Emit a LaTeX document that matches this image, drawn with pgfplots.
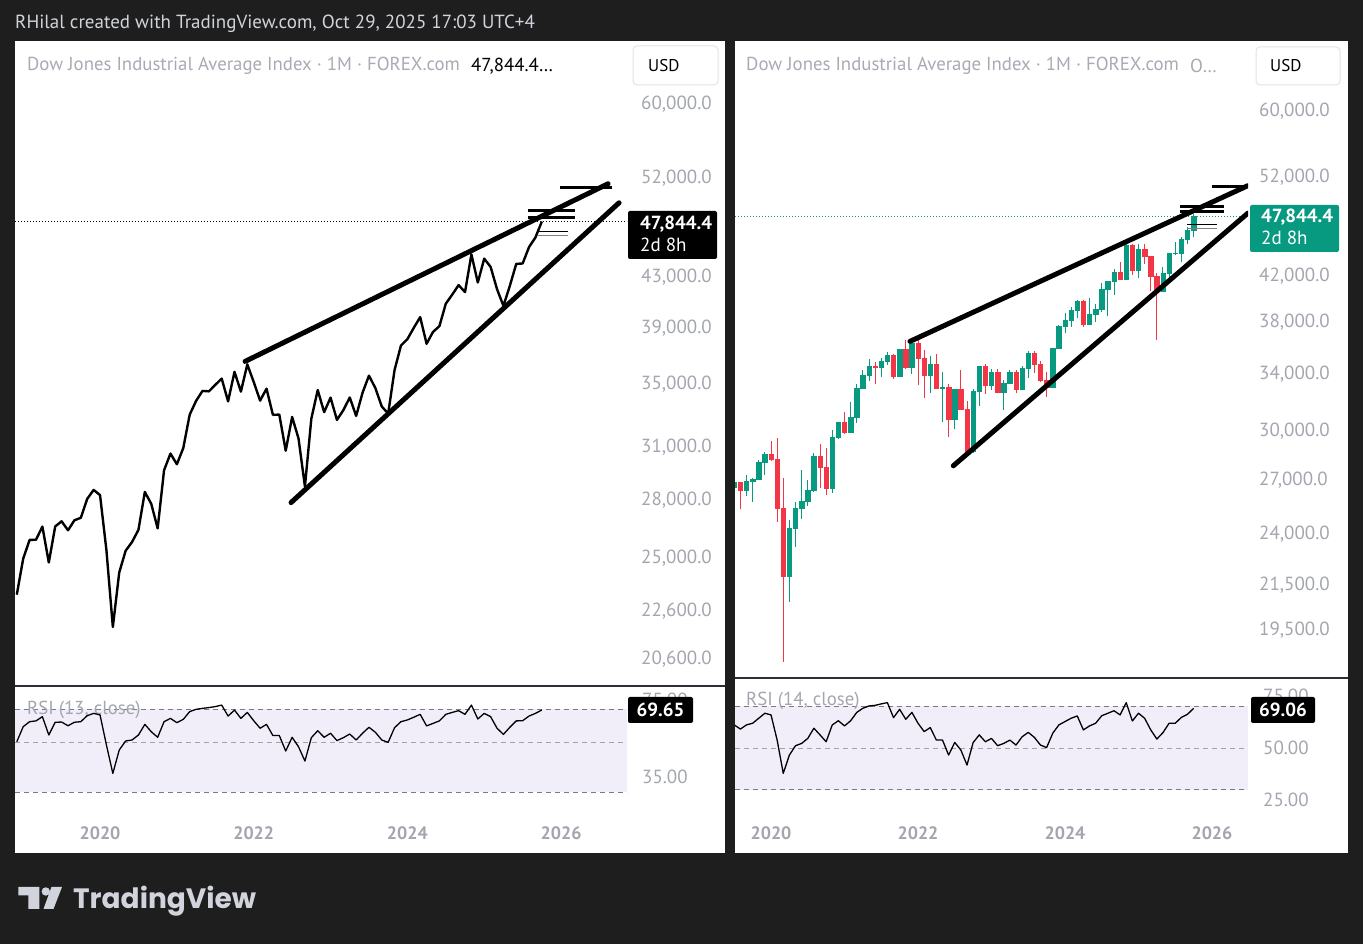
\documentclass[border=0pt]{standalone}
\usepackage{fontspec}
\setmainfont{PT Sans}
\newfontfamily\popfont{Poppins}
\usepackage{pgfplots}
\usepackage{pgfplotstable}
\pgfplotsset{compat=1.18}
\definecolor{bg}{HTML}{1E1E1E}
\definecolor{hdr}{HTML}{D1D4DC}
\definecolor{lbl}{HTML}{A3A6AF}
\definecolor{ttl}{HTML}{A8ABB4}
\definecolor{tvgreen}{HTML}{089981}
\definecolor{tvred}{HTML}{F23645}
\definecolor{band}{HTML}{F1EEF9}
\definecolor{dashc}{HTML}{787B86}
\definecolor{sep}{HTML}{2A2E39}
\definecolor{usdb}{HTML}{E0E3EB}
\newcommand\lblfont{\fontsize{19}{21}\selectfont}
\newcommand\ttlfont{\fontsize{18.8}{21}\selectfont}
\newcommand\hdrfont{\fontsize{19}{21}\selectfont}
\newcommand\usdfont{\fontsize{17}{20}\selectfont}
\newcommand\timefont{\fontsize{18}{20}\selectfont\bfseries}

\pgfplotstableread{
m c
-13 23327
-12 24999
-11 25916
-10 25929
-9 26593
-8 24815
-7 26600
-6 26864
-5 26403
-4 26917
-3 27046
-2 28051
-1 28538
0 28256
1 25409
2 21917
3 24346
4 25383
5 25813
6 26428
7 28430
8 27782
9 26502
10 29639
11 30606
12 29983
13 30932
14 32982
15 33875
16 34529
17 34503
18 34935
19 35361
20 33844
21 35820
22 34484
23 36338
24 35132
25 33893
26 34678
27 32977
28 32990
29 30775
30 32845
31 31510
32 28726
33 32733
34 34590
35 33147
36 34086
37 32657
38 33274
39 34098
40 32908
41 34408
42 35560
43 34722
44 33508
45 33053
46 35951
47 37690
48 38150
49 38996
50 39807
51 37816
52 38686
53 39119
54 40843
55 41563
56 42330
57 41763
58 44911
59 42544
60 44545
61 43841
62 42002
63 40669
64 42270
65 44095
66 44131
67 45545
68 46398
69 47844
}\leftclose

\pgfplotstableread{
m O H L C
-6 26600 27398 26550 26864
-5 26864 26900 25340 26403
-4 26403 27306 26100 26917
-3 26917 27120 25743 27046
-2 27046 28175 27000 28051
-1 28051 28700 27325 28538
0 28538 29374 28170 28256
1 28256 29568 24681 25409
2 25409 27102 18213 21917
3 21917 24765 20735 24346
4 24346 25758 23361 25383
5 25383 27580 24843 25813
6 25813 27000 25524 26428
7 26428 28650 26300 28430
8 28430 29199 26537 27782
9 27782 28958 26143 26502
10 26502 30116 26277 29639
11 29639 30637 29530 30606
12 30606 31272 29857 29983
13 29983 32009 29962 30932
14 30932 33259 30547 32982
15 32982 34257 32900 33875
16 33875 35092 33473 34529
17 34529 34849 33271 34503
18 34503 35171 33742 34935
19 34935 35631 34680 35361
20 35361 35510 33613 33844
21 33844 35892 33785 35820
22 35820 36566 34318 34484
23 34484 36680 34006 36338
24 36338 36953 33150 35132
25 35132 35824 32272 33893
26 33893 35372 32632 34678
27 34678 35492 32913 32977
28 32977 34118 30635 32990
29 32990 33272 29653 30775
30 30775 32910 30144 32845
31 32845 34281 31510 31510
32 31510 32050 28715 28726
33 28726 32889 28660 32733
34 32733 34589 31727 34590
35 34590 34712 32573 33147
36 33147 34342 32812 34086
37 34086 34334 32577 32657
38 32657 33572 31429 33274
39 33274 34257 33235 34098
40 34098 34257 32586 32908
41 32908 34588 32828 34408
42 34408 35679 33705 35560
43 35560 35679 34029 34722
44 34722 34979 33390 33508
45 33508 34142 32327 33053
46 33053 35989 33040 35951
47 35951 37778 35952 37690
48 37690 38783 37123 38150
49 38150 39282 37612 38996
50 38996 39889 38403 39807
51 39807 39900 37612 37816
52 37816 40077 37773 38686
53 38686 39580 38000 39119
54 39119 41376 38904 40843
55 40843 41585 38499 41563
56 41563 42628 40305 42330
57 42330 43325 41679 41763
58 41763 45071 41684 44911
59 44911 45074 42140 42544
60 42544 45054 41844 44545
61 44545 45073 43159 43841
62 43841 43923 40661 42002
63 42002 42300 36612 40669
64 40669 42843 40637 42270
65 42270 44134 41749 44095
66 44095 45207 43948 44131
67 44131 45758 43340 45545
68 45545 46715 45000 46398
69 46398 48040 45700 47844
}\ohlc

\pgfplotstableread{
m r
-13 53.2
-12 61.0
-11 63.6
-10 64.0
-9 66.2
-8 56.7
-7 63.3
-6 63.4
-5 61.5
-4 63.3
-3 63.6
-2 66.7
-1 67.9
0 67.1
1 51.5
2 36.8
3 48.9
4 53.6
5 54.1
6 56.7
7 62.2
8 58.4
9 55.5
10 63.6
11 65.3
12 63.1
13 64.8
14 68.8
15 70.0
16 70.5
17 70.9
18 71.4
19 72.2
20 66.5
21 69.6
22 65.3
23 68.4
24 64.1
25 60.2
26 62.2
27 56.4
28 56.4
29 48.4
30 55.5
31 50.6
32 43.2
33 55.3
34 58.9
35 55.5
36 57.6
37 53.8
38 55.3
39 57.2
40 54.1
41 57.6
42 60.7
43 58.1
44 54.1
45 52.9
46 60.5
47 63.6
48 64.5
49 65.9
50 67.4
51 61.4
52 62.7
53 64.0
54 67.4
55 68.4
56 69.3
57 67.4
58 72.2
59 65.0
60 67.9
61 66.2
62 60.2
63 57.0
64 60.7
65 64.0
66 64.1
67 66.5
68 67.9
69 69.65
}\leftrsi

\pgfplotstableread{
m r
-6 61.1
-5 59.1
-4 61.1
-3 61.9
-2 64.3
-1 66.7
0 65.9
1 53.8
2 37.8
3 46.6
4 51.1
5 52.2
6 54.6
7 59.5
8 56.3
9 53.0
10 61.1
11 63.1
12 60.6
13 63.1
14 67.1
15 69.1
16 70.2
17 70.5
18 71.2
19 71.8
20 64.6
21 68.6
22 63.8
23 67.1
24 61.9
25 57.9
26 59.8
27 53.8
28 53.8
29 46.6
30 52.7
31 49.0
32 41.8
33 52.6
34 56.3
35 53.0
36 54.6
37 51.1
38 52.2
39 53.8
40 51.4
41 55.4
42 57.5
43 55.1
44 51.4
45 50.2
46 57.1
47 61.1
48 62.7
49 64.3
50 65.4
51 58.7
52 60.6
53 61.9
54 65.5
55 66.7
56 67.9
57 65.9
58 71.8
59 63.0
60 66.7
61 64.3
62 58.7
63 54.3
64 57.4
65 61.9
66 61.9
67 64.7
68 66.2
69 69.06
}\rightrsi

\pgfplotsset{
  tvbase/.style={scale only axis, anchor=south west,
    axis line style={draw=none}, major tick length=0pt, minor tick length=0pt,
    tick style={draw=none}, ticklabel style={font=\lblfont, text=lbl},
    clip mode=individual},
  tvdash/.style={draw=dashc, dash pattern=on 5pt off 4pt, line width=0.8pt},
  tvdot/.style={dash pattern=on 1pt off 2pt, line width=1pt},
}

\begin{document}
\begin{tikzpicture}[x=1pt,y=1pt]
\fill[bg] (0,0) rectangle (1363,944);
\fill[white] (15,91) rectangle (725,903);
\fill[white] (735,91) rectangle (1348,903);
\node[anchor=west, text=hdr, font=\hdrfont, inner sep=0pt] at (15,920) {RHilal created with TradingView.com, Oct 29, 2025 17:03 UTC+4};

% ---------- left price pane
\begin{axis}[tvbase, at={(15pt,258pt)}, width=612pt, height=645pt,
  xmin=-13.28, xmax=82.3, ymode=log, ymin=19570, ymax=67740,
  xtick=\empty,
  ytick={20600,22600,25000,28000,31000,35000,39000,43000,52000,60000},
  yticklabels={{20,600.0},{22,600.0},{25,000.0},{28,000.0},{31,000.0},{35,000.0},{39,000.0},{43,000.0},{52,000.0},{60,000.0}},
  yticklabel pos=right, yticklabel style={anchor=west, inner sep=0pt, xshift=14pt}]
\addplot[black, tvdot] coordinates {(-13.28,47844) (82.3,47844)};
\addplot[black, line width=2.4pt, line join=round] table[x=m,y=c] {\leftclose};
\addplot[black, line width=5pt, line cap=round] coordinates {(22.65,36550) (79.34,51450)};
\addplot[black, line width=5pt, line cap=round] coordinates {(29.83,27850) (81.06,49600)};
\addplot[black, line width=3pt] coordinates {(71.84,51060) (79.97,51060)};
\addplot[black, line width=3pt] coordinates {(66.84,48870) (74.18,48870)};
\addplot[black, line width=3pt] coordinates {(66.84,48250) (74.18,48250)};
\addplot[black, line width=1pt] coordinates {(68.41,46900) (73.09,46900)};
\addplot[gray, line width=1pt] coordinates {(68.41,46570) (73.09,46570)};
\end{axis}

% ---------- left RSI pane
\begin{axis}[tvbase, at={(15pt,131pt)}, width=612pt, height=126pt,
  xmin=-13.28, xmax=82.3, ymin=16.28, ymax=81.57,
  xtick={0,24,48,72}, xticklabels={2020,2022,2024,2026},
  xticklabel style={anchor=center, yshift=-20pt, inner sep=0pt, font=\timefont, text=lbl},
  ytick={75,35}, yticklabels={75.00,35.00},
  yticklabel pos=right, yticklabel style={anchor=west, inner sep=0pt, xshift=15pt}]
\addplot[draw=none, fill=band] coordinates {(-13.28,27.2) (82.3,27.2) (82.3,70.2) (-13.28,70.2)} --cycle;
\addplot[tvdash] coordinates {(-13.28,70.2) (82.3,70.2)};
\addplot[tvdash, draw=dashc!70] coordinates {(-13.28,53.1) (82.3,53.1)};
\addplot[tvdash] coordinates {(-13.28,27.2) (82.3,27.2)};
\node[anchor=west, text=lbl, font=\ttlfont, inner sep=0pt] at (axis cs:-11.4,69.65) {RSI (13, close)};
\addplot[black, line width=1.3pt, line join=round] table[x=m,y=r] {\leftrsi};
\end{axis}

% ---------- right price pane
\begin{axis}[tvbase, at={(735pt,266pt)}, width=513pt, height=637pt,
  xmin=-5.88, xmax=77.88, ymode=log, ymin=17590, ymax=69930,
  xtick=\empty,
  ytick={19500,21500,24000,27000,30000,34000,38000,42000,52000,60000},
  yticklabels={{19,500.0},{21,500.0},{24,000.0},{27,000.0},{30,000.0},{34,000.0},{38,000.0},{42,000.0},{52,000.0},{60,000.0}},
  yticklabel pos=right, yticklabel style={anchor=west, inner sep=0pt, xshift=11pt}]
\addplot[tvgreen, tvdot] coordinates {(-5.88,47844) (77.88,47844)};
\pgfplotsforeachungrouped \i in {0,...,75}{%
  \pgfplotstablegetelem{\i}{m}\of\ohlc \let\cM\pgfplotsretval
  \pgfplotstablegetelem{\i}{O}\of\ohlc \let\cO\pgfplotsretval
  \pgfplotstablegetelem{\i}{H}\of\ohlc \let\cH\pgfplotsretval
  \pgfplotstablegetelem{\i}{L}\of\ohlc \let\cL\pgfplotsretval
  \pgfplotstablegetelem{\i}{C}\of\ohlc \let\cC\pgfplotsretval
  \ifnum\cC<\cO\relax \def\candcol{tvred}\else\def\candcol{tvgreen}\fi
  \pgfmathsetmacro\cA{\cM-0.36}%
  \pgfmathsetmacro\cB{\cM+0.36}%
  \edef\temp{\noexpand\addplot[draw=\candcol, line width=1pt] coordinates {(\cM,\cL) (\cM,\cH)};
    \noexpand\addplot[draw=\candcol, fill=\candcol, line width=0.5pt] coordinates {(\cA,\cO) (\cB,\cO) (\cB,\cC) (\cA,\cC)} --cycle;}%
  \temp
}
\addplot[black, line width=5pt, line cap=round] coordinates {(22.69,36470) (77.88,51110)};
\addplot[black, line width=5pt, line cap=round] coordinates {(29.76,27850) (77.88,48160)};
\addplot[black, line width=3pt] coordinates {(71.95,51000) (77.55,51000)};
\addplot[black, line width=3pt] coordinates {(66.78,48860) (73.96,48860)};
\addplot[black, line width=3pt] coordinates {(66.78,48300) (73.96,48300)};
\addplot[black, line width=1pt] coordinates {(67.92,46950) (72.82,46950)};
\addplot[gray, line width=1pt] coordinates {(67.92,46550) (72.82,46550)};
\end{axis}

% ---------- right RSI pane
\begin{axis}[tvbase, at={(735pt,131pt)}, width=513pt, height=134pt,
  xmin=-5.88, xmax=77.88, ymin=18.75, ymax=83.17,
  xtick={0,24,48,72}, xticklabels={2020,2022,2024,2026},
  xticklabel style={anchor=center, yshift=-20pt, inner sep=0pt, font=\timefont, text=lbl},
  ytick={75,50,25}, yticklabels={75.00,50.00,25.00},
  yticklabel pos=right, yticklabel style={anchor=west, inner sep=0pt, xshift=15pt}]
\addplot[draw=none, fill=band] coordinates {(-5.88,30) (77.88,30) (77.88,70) (-5.88,70)} --cycle;
\addplot[tvdash] coordinates {(-5.88,70) (77.88,70)};
\addplot[tvdash, draw=dashc!70] coordinates {(-5.88,50) (77.88,50)};
\addplot[tvdash] coordinates {(-5.88,30) (77.88,30)};
\node[anchor=west, text=lbl, font=\ttlfont, inner sep=0pt] at (axis cs:-4.08,72.6) {RSI (14, close)};
\addplot[black, line width=1.3pt, line join=round] table[x=m,y=r] {\rightrsi};
\end{axis}

% separators
\draw[sep, line width=1.2pt] (15,258) -- (725,258);
\draw[sep, line width=1.2pt] (735,266) -- (1348,266);

% titles
\node[anchor=west, text=ttl, font=\ttlfont, inner sep=0pt] at (27,878) {Dow Jones Industrial Average Index · 1M · FOREX.com};
\node[anchor=west, text=black, font=\ttlfont, inner sep=0pt] at (471,878) {47,844.4…};
\node[anchor=west, text=ttl, font=\ttlfont, inner sep=0pt] at (746,878) {Dow Jones Industrial Average Index · 1M · FOREX.com};
\node[anchor=west, text=ttl, font=\ttlfont, inner sep=0pt] at (1190,878) {O…};

% USD boxes
\draw[usdb, fill=white, rounded corners=4pt, line width=1pt] (633,859) rectangle (718,898);
\node[anchor=west, text=black, font=\usdfont, inner sep=0pt] at (648,878) {USD};
\draw[usdb, fill=white, rounded corners=4pt, line width=1pt] (1256,859) rectangle (1340,897);
\node[anchor=west, text=black, font=\usdfont, inner sep=0pt] at (1270,878) {USD};

% price markers
\fill[black, rounded corners=2pt] (628,685) rectangle (717,733);
\node[anchor=west, text=white, font=\lblfont\bfseries, inner sep=0pt] at (640,720) {47,844.4};
\node[anchor=west, text=white, font=\lblfont, inner sep=0pt] at (640,699) {2d 8h};
\fill[tvgreen, rounded corners=2pt] (1250,692) rectangle (1339,739);
\node[anchor=west, text=white, font=\lblfont\bfseries, inner sep=0pt] at (1261,727) {47,844.4};
\node[anchor=west, text=white, font=\lblfont, inner sep=0pt] at (1261,706) {2d 8h};
\fill[black, rounded corners=2pt] (628,221) rectangle (693,247);
\node[text=white, font=\lblfont\bfseries, inner sep=0pt] at (660.5,234) {69.65};
\fill[black, rounded corners=2pt] (1251,221) rectangle (1315,247);
\node[text=white, font=\lblfont\bfseries, inner sep=0pt] at (1283,234) {69.06};

% footer logo
\fill[hdr] (18.3,57) -- (39.3,57) -- (39.3,35) -- (28.3,35) -- (28.3,48.5) -- (18.3,48.5) -- cycle;
\fill[hdr] (45.8,52.5) circle (4.2pt);
\fill[hdr] (51.5,57) -- (62,57) -- (53.5,35) -- (43.5,35) -- cycle;
\node[anchor=base west, text=hdr, font=\popfont\bfseries\fontsize{28}{31}\selectfont, inner sep=0pt] at (73,35) {TradingView};
\end{tikzpicture}
\end{document}
